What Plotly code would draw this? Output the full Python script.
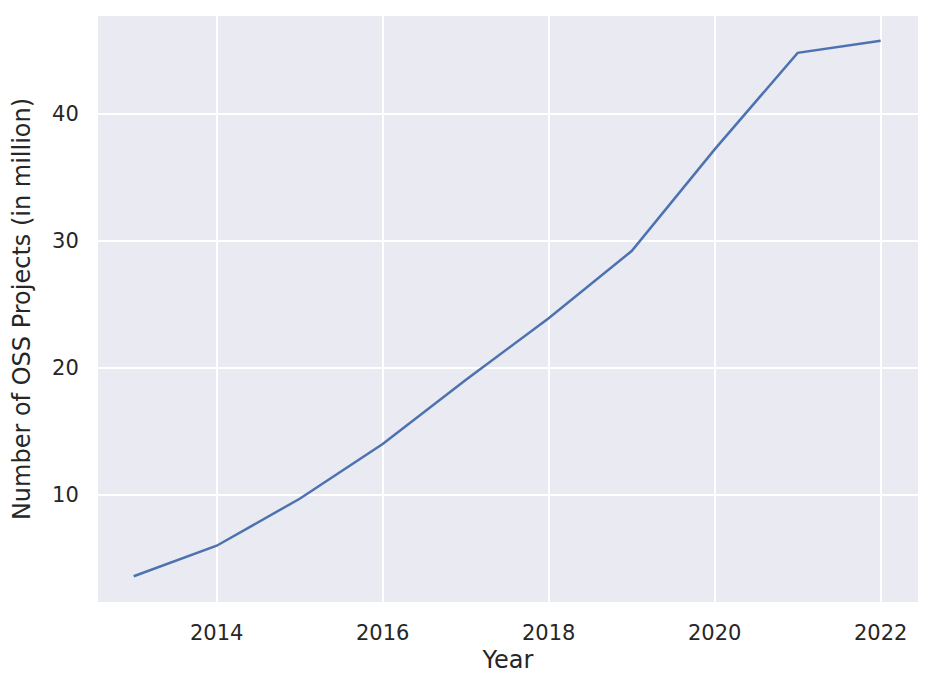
import plotly.graph_objects as go

years = [2013, 2014, 2015, 2016, 2017, 2018, 2019, 2020, 2021, 2022]
projects = [3.6, 6.0, 9.7, 14.0, 19.05, 23.9, 29.2, 37.2, 44.8, 45.75]

fig = go.Figure()
fig.add_trace(go.Scatter(
    x=years,
    y=projects,
    mode='lines',
    line=dict(color='#4C72B0', width=2.5),
))

axis_style = dict(
    showgrid=True,
    gridcolor='white',
    gridwidth=1.5,
    zeroline=False,
    showline=False,
    ticks='outside',
    tickcolor='rgba(0,0,0,0)',
    tickfont=dict(size=21, color='#262626'),
    title_font=dict(size=24, color='#262626'),
)

fig.update_layout(
    width=926,
    height=685,
    margin=dict(l=90, r=16, t=8, b=91, autoexpand=False),
    paper_bgcolor='white',
    plot_bgcolor='#EAEAF2',
    font=dict(family='DejaVu Sans'),
    showlegend=False,
    xaxis=dict(title=dict(text='Year', standoff=6), range=[2012.57, 2022.45],
               tickvals=[2014, 2016, 2018, 2020, 2022], ticklen=12, **axis_style),
    yaxis=dict(title=dict(text='Number of OSS Projects (in million)', standoff=18),
               range=[1.57, 47.7], tickvals=[10, 20, 30, 40], ticklen=14, **axis_style),
)

fig.write_html("out.html")
